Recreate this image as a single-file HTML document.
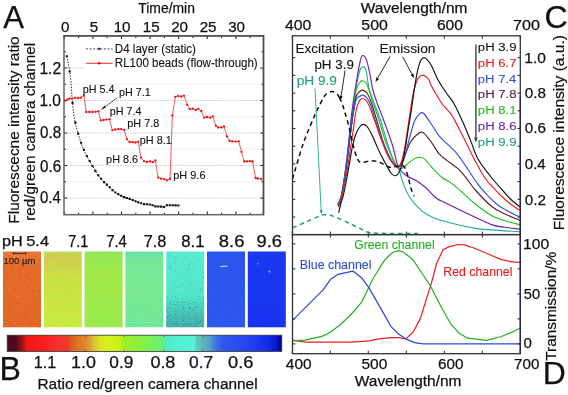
<!DOCTYPE html>
<html><head><meta charset="utf-8"><style>
html,body{margin:0;padding:0;background:#fff;}
svg{display:block;will-change:transform;}
text{font-family:"Liberation Sans", sans-serif;}
</style></head><body>
<svg width="568" height="395" viewBox="0 0 568 395">
<defs><linearGradient id="tg0" x1="0" y1="0" x2="0" y2="1"><stop offset="0" stop-color="#e87838"/><stop offset="0.2" stop-color="#e46a2a"/><stop offset="1" stop-color="#e26626"/></linearGradient><linearGradient id="tg1" x1="0" y1="0" x2="0" y2="1"><stop offset="0" stop-color="#b8e058"/><stop offset="0.06" stop-color="#d0cc50"/><stop offset="0.35" stop-color="#cce044"/><stop offset="1" stop-color="#c8ec3c"/></linearGradient><linearGradient id="tg2" x1="0" y1="0" x2="0" y2="1"><stop offset="0" stop-color="#90e858"/><stop offset="0.3" stop-color="#a0ea48"/><stop offset="1" stop-color="#98ec50"/></linearGradient><linearGradient id="tg3" x1="0" y1="0" x2="0" y2="1"><stop offset="0" stop-color="#68e0b0"/><stop offset="0.1" stop-color="#74e898"/><stop offset="0.5" stop-color="#7ae890"/><stop offset="1" stop-color="#70e898"/></linearGradient><linearGradient id="tg4" x1="0" y1="0" x2="0" y2="1"><stop offset="0" stop-color="#58ecd0"/><stop offset="0.6" stop-color="#52e6ca"/><stop offset="0.72" stop-color="#4cd4c0"/><stop offset="1" stop-color="#44b0a8"/></linearGradient><linearGradient id="tg5" x1="0" y1="0" x2="0" y2="1"><stop offset="0" stop-color="#2c54ec"/><stop offset="1" stop-color="#2c56ee"/></linearGradient><linearGradient id="tg6" x1="0" y1="0" x2="0" y2="1"><stop offset="0" stop-color="#1a38f0"/><stop offset="1" stop-color="#1834f0"/></linearGradient><filter id="sp0a" x="0" y="0" width="1" height="1" color-interpolation-filters="sRGB"><feTurbulence type="fractalNoise" baseFrequency="0.85" numOctaves="2" seed="1"/><feColorMatrix type="matrix" values="0 0 0 0 0.847 0 0 0 0 0.314 0 0 0 0 0.157 5 0 0 0 -3.3"/><feComposite in2="SourceAlpha" operator="in"/></filter><filter id="sp0b" x="0" y="0" width="1" height="1" color-interpolation-filters="sRGB"><feTurbulence type="fractalNoise" baseFrequency="0.85" numOctaves="2" seed="2"/><feColorMatrix type="matrix" values="0 0 0 0 0.910 0 0 0 0 0.627 0 0 0 0 0.282 5 0 0 0 -3.3"/><feComposite in2="SourceAlpha" operator="in"/></filter><filter id="sp1a" x="0" y="0" width="1" height="1" color-interpolation-filters="sRGB"><feTurbulence type="fractalNoise" baseFrequency="0.85" numOctaves="2" seed="3"/><feColorMatrix type="matrix" values="0 0 0 0 0.910 0 0 0 0 0.627 0 0 0 0 0.282 5 0 0 0 -3.25"/><feComposite in2="SourceAlpha" operator="in"/></filter><filter id="sp1b" x="0" y="0" width="1" height="1" color-interpolation-filters="sRGB"><feTurbulence type="fractalNoise" baseFrequency="0.85" numOctaves="2" seed="4"/><feColorMatrix type="matrix" values="0 0 0 0 0.659 0 0 0 0 0.941 0 0 0 0 0.376 5 0 0 0 -3.1"/><feComposite in2="SourceAlpha" operator="in"/></filter><filter id="sp2a" x="0" y="0" width="1" height="1" color-interpolation-filters="sRGB"><feTurbulence type="fractalNoise" baseFrequency="0.85" numOctaves="2" seed="5"/><feColorMatrix type="matrix" values="0 0 0 0 0.784 0 0 0 0 0.878 0 0 0 0 0.188 5 0 0 0 -3.1"/><feComposite in2="SourceAlpha" operator="in"/></filter><filter id="sp3a" x="0" y="0" width="1" height="1" color-interpolation-filters="sRGB"><feTurbulence type="fractalNoise" baseFrequency="0.85" numOctaves="2" seed="6"/><feColorMatrix type="matrix" values="0 0 0 0 0.314 0 0 0 0 0.816 0 0 0 0 0.753 5 0 0 0 -3.4"/><feComposite in2="SourceAlpha" operator="in"/></filter><filter id="sp4a" x="0" y="0" width="1" height="1" color-interpolation-filters="sRGB"><feTurbulence type="fractalNoise" baseFrequency="0.85" numOctaves="2" seed="7"/><feColorMatrix type="matrix" values="0 0 0 0 0.220 0 0 0 0 0.533 0 0 0 0 0.596 6 0 0 0 -3.5"/><feComposite in2="SourceAlpha" operator="in"/></filter><filter id="sp4b" x="0" y="0" width="1" height="1" color-interpolation-filters="sRGB"><feTurbulence type="fractalNoise" baseFrequency="0.85" numOctaves="2" seed="8"/><feColorMatrix type="matrix" values="0 0 0 0 0.251 0 0 0 0 0.659 0 0 0 0 0.722 5 0 0 0 -3.3"/><feComposite in2="SourceAlpha" operator="in"/></filter><filter id="sp5a" x="0" y="0" width="1" height="1" color-interpolation-filters="sRGB"><feTurbulence type="fractalNoise" baseFrequency="0.85" numOctaves="2" seed="9"/><feColorMatrix type="matrix" values="0 0 0 0 0.251 0 0 0 0 0.439 0 0 0 0 0.941 5 0 0 0 -3.3"/><feComposite in2="SourceAlpha" operator="in"/></filter><filter id="sp6a" x="0" y="0" width="1" height="1" color-interpolation-filters="sRGB"><feTurbulence type="fractalNoise" baseFrequency="0.85" numOctaves="2" seed="10"/><feColorMatrix type="matrix" values="0 0 0 0 0.188 0 0 0 0 0.314 0 0 0 0 0.941 5 0 0 0 -3.1"/><feComposite in2="SourceAlpha" operator="in"/></filter><linearGradient id="mg5" x1="0" y1="0" x2="0" y2="1"><stop offset="0" stop-color="#000"/><stop offset="0.55" stop-color="#000"/><stop offset="0.8" stop-color="#fff"/><stop offset="1" stop-color="#fff"/></linearGradient><mask id="mk5" maskContentUnits="objectBoundingBox"><rect width="1" height="1" fill="url(#mg5)"/></mask><linearGradient id="mg2" x1="0" y1="0" x2="0" y2="1"><stop offset="0" stop-color="#fff"/><stop offset="0.5" stop-color="#888"/><stop offset="1" stop-color="#222"/></linearGradient><mask id="mk2" maskContentUnits="objectBoundingBox"><rect width="1" height="1" fill="url(#mg2)"/></mask><linearGradient id="cbg" x1="0" y1="0" x2="1" y2="0"><stop offset="0.0" stop-color="#4a0a1e"/><stop offset="0.032046613255644577" stop-color="#4e0a1e"/><stop offset="0.0538965768390386" stop-color="#a01018"/><stop offset="0.0721048798252003" stop-color="#f01818"/><stop offset="0.13765477057538236" stop-color="#fc2020"/><stop offset="0.1922796795338674" stop-color="#f43434"/><stop offset="0.21777130371449377" stop-color="#f03828"/><stop offset="0.23597960670065546" stop-color="#d86020"/><stop offset="0.2578295702840495" stop-color="#e07424"/><stop offset="0.2942461762563729" stop-color="#e09030"/><stop offset="0.3160961398397669" stop-color="#d8c038"/><stop offset="0.3343044428259286" stop-color="#d8e028"/><stop offset="0.359796067006555" stop-color="#d8f020"/><stop offset="0.403495994173343" stop-color="#ccf018"/><stop offset="0.4217042971595047" stop-color="#a8f028"/><stop offset="0.43627093954843404" stop-color="#9cf030"/><stop offset="0.48361252731245447" stop-color="#88f040"/><stop offset="0.5382374362709396" stop-color="#74f064"/><stop offset="0.5637290604515659" stop-color="#6cf078"/><stop offset="0.5782957028404953" stop-color="#52ecc0"/><stop offset="0.6110706482155863" stop-color="#50f0d0"/><stop offset="0.6802621995630007" stop-color="#58f0d8"/><stop offset="0.6911871813546977" stop-color="#60c8b8"/><stop offset="0.7312454479242534" stop-color="#5aa8c0"/><stop offset="0.7603787327021121" stop-color="#4070e8"/><stop offset="0.7822286962855062" stop-color="#3058f0"/><stop offset="0.8477785870356882" stop-color="#2a4af0"/><stop offset="0.9024034959941734" stop-color="#1e3cf0"/><stop offset="0.9497450837581937" stop-color="#142ce8"/><stop offset="0.9788783685360524" stop-color="#0818d0"/><stop offset="1.0" stop-color="#000080"/></linearGradient></defs>
<rect width="568" height="395" fill="#fff"/>
<line x1="65.0" y1="198.00" x2="262.5" y2="198.00" stroke="#c0c0c0" stroke-width="0.9" stroke-dasharray="1.3,1.2"/>
<line x1="65.0" y1="181.75" x2="262.5" y2="181.75" stroke="#e2e2e6" stroke-width="0.9" stroke-dasharray="1.3,1.2"/>
<line x1="65.0" y1="165.50" x2="262.5" y2="165.50" stroke="#c0c0c0" stroke-width="0.9" stroke-dasharray="1.3,1.2"/>
<line x1="65.0" y1="149.25" x2="262.5" y2="149.25" stroke="#e2e2e6" stroke-width="0.9" stroke-dasharray="1.3,1.2"/>
<line x1="65.0" y1="133.00" x2="262.5" y2="133.00" stroke="#c0c0c0" stroke-width="0.9" stroke-dasharray="1.3,1.2"/>
<line x1="65.0" y1="116.75" x2="262.5" y2="116.75" stroke="#e2e2e6" stroke-width="0.9" stroke-dasharray="1.3,1.2"/>
<line x1="65.0" y1="100.50" x2="262.5" y2="100.50" stroke="#c0c0c0" stroke-width="0.9" stroke-dasharray="1.3,1.2"/>
<line x1="65.0" y1="84.25" x2="262.5" y2="84.25" stroke="#e2e2e6" stroke-width="0.9" stroke-dasharray="1.3,1.2"/>
<line x1="65.0" y1="68.00" x2="262.5" y2="68.00" stroke="#c0c0c0" stroke-width="0.9" stroke-dasharray="1.3,1.2"/>
<path d="M64.0,214.25h2.0 M263.5,214.25h-2.0 M64.0,198.00h3.2 M263.5,198.00h-3.2 M64.0,181.75h2.0 M263.5,181.75h-2.0 M64.0,165.50h3.2 M263.5,165.50h-3.2 M64.0,149.25h2.0 M263.5,149.25h-2.0 M64.0,133.00h3.2 M263.5,133.00h-3.2 M64.0,116.75h2.0 M263.5,116.75h-2.0 M64.0,100.50h3.2 M263.5,100.50h-3.2 M64.0,84.25h2.0 M263.5,84.25h-2.0 M64.0,68.00h3.2 M263.5,68.00h-3.2 M64.0,51.75h2.0 M263.5,51.75h-2.0 M64.0,35.50h3.2 M263.5,35.50h-3.2 M64.30,35.9v3.2 M64.30,214.7v-3.2 M78.60,35.9v2.0 M78.60,214.7v-2.0 M92.90,35.9v3.2 M92.90,214.7v-3.2 M107.20,35.9v2.0 M107.20,214.7v-2.0 M121.50,35.9v3.2 M121.50,214.7v-3.2 M135.80,35.9v2.0 M135.80,214.7v-2.0 M150.10,35.9v3.2 M150.10,214.7v-3.2 M164.40,35.9v2.0 M164.40,214.7v-2.0 M178.70,35.9v3.2 M178.70,214.7v-3.2 M193.00,35.9v2.0 M193.00,214.7v-2.0 M207.30,35.9v3.2 M207.30,214.7v-3.2 M221.60,35.9v2.0 M221.60,214.7v-2.0 M235.90,35.9v3.2 M235.90,214.7v-3.2 M250.20,35.9v2.0 M250.20,214.7v-2.0" stroke="#222" stroke-width="1.1" fill="none"/>
<rect x="64.0" y="35.9" width="199.5" height="178.79999999999998" fill="none" stroke="#666" stroke-width="1.5"/>
<path d="M63.25,35.9H263.5V214.7" stroke="#484848" stroke-width="1.4" fill="none"/>
<text x="3.24" y="28.30" font-size="31.25" textLength="20.82" lengthAdjust="spacingAndGlyphs" fill="#111" stroke="#111" stroke-width="0.25" >A</text>
<text x="138.29" y="12.90" font-size="14.97" textLength="56.60" lengthAdjust="spacingAndGlyphs" fill="#111" stroke="#111" stroke-width="0.25" >Time/min</text>
<text x="60.97" y="32.00" font-size="15.26" textLength="8.45" lengthAdjust="spacingAndGlyphs" fill="#111" stroke="#111" stroke-width="0.25" >0</text>
<text x="89.79" y="32.00" font-size="15.26" textLength="8.45" lengthAdjust="spacingAndGlyphs" fill="#111" stroke="#111" stroke-width="0.25" >5</text>
<text x="113.66" y="32.00" font-size="15.26" textLength="16.91" lengthAdjust="spacingAndGlyphs" fill="#111" stroke="#111" stroke-width="0.25" >10</text>
<text x="142.69" y="32.00" font-size="15.26" textLength="16.91" lengthAdjust="spacingAndGlyphs" fill="#111" stroke="#111" stroke-width="0.25" >15</text>
<text x="171.16" y="32.00" font-size="15.26" textLength="16.91" lengthAdjust="spacingAndGlyphs" fill="#111" stroke="#111" stroke-width="0.25" >20</text>
<text x="199.68" y="32.00" font-size="15.26" textLength="16.91" lengthAdjust="spacingAndGlyphs" fill="#111" stroke="#111" stroke-width="0.25" >25</text>
<text x="228.15" y="32.00" font-size="15.26" textLength="16.91" lengthAdjust="spacingAndGlyphs" fill="#111" stroke="#111" stroke-width="0.25" >30</text>
<text x="39.41" y="74.00" font-size="15.70" textLength="21.78" lengthAdjust="spacingAndGlyphs" fill="#111" stroke="#111" stroke-width="0.25" >1.2</text>
<text x="39.42" y="105.70" font-size="15.70" textLength="21.59" lengthAdjust="spacingAndGlyphs" fill="#111" stroke="#111" stroke-width="0.25" >1.0</text>
<text x="40.01" y="137.90" font-size="15.70" textLength="21.05" lengthAdjust="spacingAndGlyphs" fill="#111" stroke="#111" stroke-width="0.25" >0.8</text>
<text x="40.01" y="171.50" font-size="15.70" textLength="21.06" lengthAdjust="spacingAndGlyphs" fill="#111" stroke="#111" stroke-width="0.25" >0.6</text>
<text x="40.01" y="203.40" font-size="15.70" textLength="20.82" lengthAdjust="spacingAndGlyphs" fill="#111" stroke="#111" stroke-width="0.25" >0.4</text>
<text transform="translate(19.30,222.40) rotate(-90)" x="-1.26" y="0" font-size="15.26" textLength="187.31" lengthAdjust="spacingAndGlyphs" fill="#111" stroke="#111" stroke-width="0.2">Fluorescecne intensity ratio</text>
<text transform="translate(35.40,219.70) rotate(-90)" x="-1.01" y="0" font-size="14.97" textLength="177.73" lengthAdjust="spacingAndGlyphs" fill="#111" stroke="#111" stroke-width="0.2">red/green camera channel</text>
<rect x="84" y="40.5" width="176" height="30.5" fill="#fff"/>
<path d="M85.9,48.9H112.7" stroke="#333" stroke-width="0.9" stroke-dasharray="2,1.6"/>
<path d="M97.9,48.9h2.6M99.2,47.6v2.6" stroke="#111" stroke-width="1"/>
<text x="114.85" y="53.40" font-size="12.50" textLength="81.07" lengthAdjust="spacingAndGlyphs" fill="#111" stroke="#111" stroke-width="0.1" >D4 layer (static)</text>
<path d="M85.9,63.3H112.7" stroke="#f03030" stroke-width="1"/>
<circle cx="99.2" cy="63.3" r="1.3" fill="#e00"/>
<text x="114.85" y="67.30" font-size="12.50" textLength="142.86" lengthAdjust="spacingAndGlyphs" fill="#111" stroke="#111" stroke-width="0.1" >RL100 beads (flow-through)</text>
<path d="M66.80,56.30 C67.37,59.32 69.23,66.45 70.20,74.40 C71.17,82.35 71.88,96.57 72.60,104.00 C73.32,111.43 73.72,114.57 74.50,119.00 C75.28,123.43 76.08,126.27 77.30,130.60 C78.52,134.93 80.27,140.85 81.80,145.00 C83.33,149.15 84.73,152.03 86.50,155.50 C88.27,158.97 90.60,162.70 92.40,165.80 C94.20,168.90 95.43,171.43 97.30,174.10 C99.17,176.77 101.75,179.82 103.60,181.80 C105.45,183.78 106.67,184.37 108.40,186.00 C110.13,187.63 111.62,189.82 114.00,191.60 C116.38,193.38 120.03,195.47 122.70,196.70 C125.37,197.93 127.33,198.03 130.00,199.00 C132.67,199.97 136.30,201.63 138.70,202.50 C141.10,203.37 142.43,203.87 144.40,204.20 C146.37,204.53 148.65,204.13 150.50,204.50 C152.35,204.87 153.77,206.05 155.50,206.40 C157.23,206.75 159.43,206.50 160.90,206.60 C162.37,206.70 163.27,207.25 164.30,207.00 C165.33,206.75 164.73,205.35 167.10,205.10 C169.47,204.85 176.60,205.43 178.50,205.50" stroke="#222" stroke-width="1" fill="none" stroke-dasharray="1.4,1.4"/>
<path d="M65.75,55.25h2.1v2.1h-2.1z M68.61,70.48h2.1v2.1h-2.1z M71.47,101.96h2.1v2.1h-2.1z M74.33,121.60h2.1v2.1h-2.1z M77.19,132.56h2.1v2.1h-2.1z M80.05,141.71h2.1v2.1h-2.1z M82.91,148.78h2.1v2.1h-2.1z M85.77,155.01h2.1v2.1h-2.1z M88.63,160.00h2.1v2.1h-2.1z M91.49,164.99h2.1v2.1h-2.1z M94.35,169.83h2.1v2.1h-2.1z M97.21,174.22h2.1v2.1h-2.1z M100.07,177.72h2.1v2.1h-2.1z M102.93,181.08h2.1v2.1h-2.1z M105.79,183.58h2.1v2.1h-2.1z M108.65,186.25h2.1v2.1h-2.1z M111.51,189.11h2.1v2.1h-2.1z M114.37,191.38h2.1v2.1h-2.1z M117.23,193.06h2.1v2.1h-2.1z M120.09,194.74h2.1v2.1h-2.1z M122.95,196.06h2.1v2.1h-2.1z M125.81,196.96h2.1v2.1h-2.1z M128.67,197.86h2.1v2.1h-2.1z M131.53,198.99h2.1v2.1h-2.1z M134.39,200.14h2.1v2.1h-2.1z M137.25,201.29h2.1v2.1h-2.1z M140.11,202.18h2.1v2.1h-2.1z M142.97,203.04h2.1v2.1h-2.1z M145.83,203.27h2.1v2.1h-2.1z M148.69,203.41h2.1v2.1h-2.1z M151.55,204.25h2.1v2.1h-2.1z M154.41,205.33h2.1v2.1h-2.1z M157.27,205.45h2.1v2.1h-2.1z M160.13,205.58h2.1v2.1h-2.1z M162.99,205.92h2.1v2.1h-2.1z M165.85,204.19h2.1v2.1h-2.1z M168.71,204.14h2.1v2.1h-2.1z M171.57,204.24h2.1v2.1h-2.1z M174.43,204.34h2.1v2.1h-2.1z M177.29,204.44h2.1v2.1h-2.1z" fill="#111"/>
<path d="M64.90,100.80 L67.10,99.60 L69.30,98.70 L72.00,98.60 L75.00,97.80 L78.20,98.00 L81.10,97.70 L83.80,95.30 L86.20,112.00 L89.30,112.00 L92.40,112.00 L95.50,111.80 L98.50,111.30 L100.70,120.40 L103.50,120.00 L106.40,119.60 L109.60,119.20 L112.30,130.30 L115.30,129.50 L118.30,129.10 L121.20,129.10 L124.00,129.80 L126.90,139.20 L129.70,142.00 L132.60,142.20 L135.40,142.50 L138.30,141.70 L140.90,157.60 L143.90,161.10 L146.90,162.00 L150.10,161.50 L152.80,162.20 L155.40,160.40 L158.10,177.60 L161.10,178.70 L164.30,179.20 L167.00,180.30 L170.00,179.00 L172.40,115.40 L175.30,96.80 L178.30,96.00 L181.30,96.50 L184.00,95.60 L187.20,104.80 L189.80,109.20 L192.80,108.70 L195.70,110.10 L198.30,108.90 L201.30,111.00 L204.30,117.70 L207.00,116.90 L210.20,117.70 L212.80,116.30 L215.90,125.70 L218.20,127.50 L221.40,127.50 L224.00,126.40 L227.00,136.40 L229.60,140.90 L232.40,141.30 L235.60,141.60 L238.70,141.30 L241.50,151.80 L244.20,161.50 L247.00,161.50 L249.80,161.20 L252.60,161.40 L255.60,178.00 L257.80,178.50 L261.20,179.00" stroke="#f04848" stroke-width="0.9" fill="none"/>
<path d="M64.90,100.80m-1.15,0a1.15,1.15 0 1,0 2.3,0a1.15,1.15 0 1,0 -2.3,0 M67.10,99.60m-1.15,0a1.15,1.15 0 1,0 2.3,0a1.15,1.15 0 1,0 -2.3,0 M69.30,98.70m-1.15,0a1.15,1.15 0 1,0 2.3,0a1.15,1.15 0 1,0 -2.3,0 M72.00,98.60m-1.15,0a1.15,1.15 0 1,0 2.3,0a1.15,1.15 0 1,0 -2.3,0 M75.00,97.80m-1.15,0a1.15,1.15 0 1,0 2.3,0a1.15,1.15 0 1,0 -2.3,0 M78.20,98.00m-1.15,0a1.15,1.15 0 1,0 2.3,0a1.15,1.15 0 1,0 -2.3,0 M81.10,97.70m-1.15,0a1.15,1.15 0 1,0 2.3,0a1.15,1.15 0 1,0 -2.3,0 M83.80,95.30m-1.15,0a1.15,1.15 0 1,0 2.3,0a1.15,1.15 0 1,0 -2.3,0 M86.20,112.00m-1.15,0a1.15,1.15 0 1,0 2.3,0a1.15,1.15 0 1,0 -2.3,0 M89.30,112.00m-1.15,0a1.15,1.15 0 1,0 2.3,0a1.15,1.15 0 1,0 -2.3,0 M92.40,112.00m-1.15,0a1.15,1.15 0 1,0 2.3,0a1.15,1.15 0 1,0 -2.3,0 M95.50,111.80m-1.15,0a1.15,1.15 0 1,0 2.3,0a1.15,1.15 0 1,0 -2.3,0 M98.50,111.30m-1.15,0a1.15,1.15 0 1,0 2.3,0a1.15,1.15 0 1,0 -2.3,0 M100.70,120.40m-1.15,0a1.15,1.15 0 1,0 2.3,0a1.15,1.15 0 1,0 -2.3,0 M103.50,120.00m-1.15,0a1.15,1.15 0 1,0 2.3,0a1.15,1.15 0 1,0 -2.3,0 M106.40,119.60m-1.15,0a1.15,1.15 0 1,0 2.3,0a1.15,1.15 0 1,0 -2.3,0 M109.60,119.20m-1.15,0a1.15,1.15 0 1,0 2.3,0a1.15,1.15 0 1,0 -2.3,0 M112.30,130.30m-1.15,0a1.15,1.15 0 1,0 2.3,0a1.15,1.15 0 1,0 -2.3,0 M115.30,129.50m-1.15,0a1.15,1.15 0 1,0 2.3,0a1.15,1.15 0 1,0 -2.3,0 M118.30,129.10m-1.15,0a1.15,1.15 0 1,0 2.3,0a1.15,1.15 0 1,0 -2.3,0 M121.20,129.10m-1.15,0a1.15,1.15 0 1,0 2.3,0a1.15,1.15 0 1,0 -2.3,0 M124.00,129.80m-1.15,0a1.15,1.15 0 1,0 2.3,0a1.15,1.15 0 1,0 -2.3,0 M126.90,139.20m-1.15,0a1.15,1.15 0 1,0 2.3,0a1.15,1.15 0 1,0 -2.3,0 M129.70,142.00m-1.15,0a1.15,1.15 0 1,0 2.3,0a1.15,1.15 0 1,0 -2.3,0 M132.60,142.20m-1.15,0a1.15,1.15 0 1,0 2.3,0a1.15,1.15 0 1,0 -2.3,0 M135.40,142.50m-1.15,0a1.15,1.15 0 1,0 2.3,0a1.15,1.15 0 1,0 -2.3,0 M138.30,141.70m-1.15,0a1.15,1.15 0 1,0 2.3,0a1.15,1.15 0 1,0 -2.3,0 M140.90,157.60m-1.15,0a1.15,1.15 0 1,0 2.3,0a1.15,1.15 0 1,0 -2.3,0 M143.90,161.10m-1.15,0a1.15,1.15 0 1,0 2.3,0a1.15,1.15 0 1,0 -2.3,0 M146.90,162.00m-1.15,0a1.15,1.15 0 1,0 2.3,0a1.15,1.15 0 1,0 -2.3,0 M150.10,161.50m-1.15,0a1.15,1.15 0 1,0 2.3,0a1.15,1.15 0 1,0 -2.3,0 M152.80,162.20m-1.15,0a1.15,1.15 0 1,0 2.3,0a1.15,1.15 0 1,0 -2.3,0 M155.40,160.40m-1.15,0a1.15,1.15 0 1,0 2.3,0a1.15,1.15 0 1,0 -2.3,0 M158.10,177.60m-1.15,0a1.15,1.15 0 1,0 2.3,0a1.15,1.15 0 1,0 -2.3,0 M161.10,178.70m-1.15,0a1.15,1.15 0 1,0 2.3,0a1.15,1.15 0 1,0 -2.3,0 M164.30,179.20m-1.15,0a1.15,1.15 0 1,0 2.3,0a1.15,1.15 0 1,0 -2.3,0 M167.00,180.30m-1.15,0a1.15,1.15 0 1,0 2.3,0a1.15,1.15 0 1,0 -2.3,0 M170.00,179.00m-1.15,0a1.15,1.15 0 1,0 2.3,0a1.15,1.15 0 1,0 -2.3,0 M172.40,115.40m-1.15,0a1.15,1.15 0 1,0 2.3,0a1.15,1.15 0 1,0 -2.3,0 M175.30,96.80m-1.15,0a1.15,1.15 0 1,0 2.3,0a1.15,1.15 0 1,0 -2.3,0 M178.30,96.00m-1.15,0a1.15,1.15 0 1,0 2.3,0a1.15,1.15 0 1,0 -2.3,0 M181.30,96.50m-1.15,0a1.15,1.15 0 1,0 2.3,0a1.15,1.15 0 1,0 -2.3,0 M184.00,95.60m-1.15,0a1.15,1.15 0 1,0 2.3,0a1.15,1.15 0 1,0 -2.3,0 M187.20,104.80m-1.15,0a1.15,1.15 0 1,0 2.3,0a1.15,1.15 0 1,0 -2.3,0 M189.80,109.20m-1.15,0a1.15,1.15 0 1,0 2.3,0a1.15,1.15 0 1,0 -2.3,0 M192.80,108.70m-1.15,0a1.15,1.15 0 1,0 2.3,0a1.15,1.15 0 1,0 -2.3,0 M195.70,110.10m-1.15,0a1.15,1.15 0 1,0 2.3,0a1.15,1.15 0 1,0 -2.3,0 M198.30,108.90m-1.15,0a1.15,1.15 0 1,0 2.3,0a1.15,1.15 0 1,0 -2.3,0 M201.30,111.00m-1.15,0a1.15,1.15 0 1,0 2.3,0a1.15,1.15 0 1,0 -2.3,0 M204.30,117.70m-1.15,0a1.15,1.15 0 1,0 2.3,0a1.15,1.15 0 1,0 -2.3,0 M207.00,116.90m-1.15,0a1.15,1.15 0 1,0 2.3,0a1.15,1.15 0 1,0 -2.3,0 M210.20,117.70m-1.15,0a1.15,1.15 0 1,0 2.3,0a1.15,1.15 0 1,0 -2.3,0 M212.80,116.30m-1.15,0a1.15,1.15 0 1,0 2.3,0a1.15,1.15 0 1,0 -2.3,0 M215.90,125.70m-1.15,0a1.15,1.15 0 1,0 2.3,0a1.15,1.15 0 1,0 -2.3,0 M218.20,127.50m-1.15,0a1.15,1.15 0 1,0 2.3,0a1.15,1.15 0 1,0 -2.3,0 M221.40,127.50m-1.15,0a1.15,1.15 0 1,0 2.3,0a1.15,1.15 0 1,0 -2.3,0 M224.00,126.40m-1.15,0a1.15,1.15 0 1,0 2.3,0a1.15,1.15 0 1,0 -2.3,0 M227.00,136.40m-1.15,0a1.15,1.15 0 1,0 2.3,0a1.15,1.15 0 1,0 -2.3,0 M229.60,140.90m-1.15,0a1.15,1.15 0 1,0 2.3,0a1.15,1.15 0 1,0 -2.3,0 M232.40,141.30m-1.15,0a1.15,1.15 0 1,0 2.3,0a1.15,1.15 0 1,0 -2.3,0 M235.60,141.60m-1.15,0a1.15,1.15 0 1,0 2.3,0a1.15,1.15 0 1,0 -2.3,0 M238.70,141.30m-1.15,0a1.15,1.15 0 1,0 2.3,0a1.15,1.15 0 1,0 -2.3,0 M241.50,151.80m-1.15,0a1.15,1.15 0 1,0 2.3,0a1.15,1.15 0 1,0 -2.3,0 M244.20,161.50m-1.15,0a1.15,1.15 0 1,0 2.3,0a1.15,1.15 0 1,0 -2.3,0 M247.00,161.50m-1.15,0a1.15,1.15 0 1,0 2.3,0a1.15,1.15 0 1,0 -2.3,0 M249.80,161.20m-1.15,0a1.15,1.15 0 1,0 2.3,0a1.15,1.15 0 1,0 -2.3,0 M252.60,161.40m-1.15,0a1.15,1.15 0 1,0 2.3,0a1.15,1.15 0 1,0 -2.3,0 M255.60,178.00m-1.15,0a1.15,1.15 0 1,0 2.3,0a1.15,1.15 0 1,0 -2.3,0 M257.80,178.50m-1.15,0a1.15,1.15 0 1,0 2.3,0a1.15,1.15 0 1,0 -2.3,0 M261.20,179.00m-1.15,0a1.15,1.15 0 1,0 2.3,0a1.15,1.15 0 1,0 -2.3,0" fill="#f01010"/>
<text x="82.80" y="92.70" font-size="10.17" textLength="31.81" lengthAdjust="spacingAndGlyphs" fill="#111" stroke="#111" stroke-width="0.1" >pH 5.4</text>
<text x="119.11" y="95.80" font-size="10.17" textLength="31.62" lengthAdjust="spacingAndGlyphs" fill="#111" stroke="#111" stroke-width="0.1" >pH 7.1</text>
<text x="109.71" y="114.60" font-size="10.17" textLength="31.71" lengthAdjust="spacingAndGlyphs" fill="#111" stroke="#111" stroke-width="0.1" >pH 7.4</text>
<text x="127.30" y="126.80" font-size="10.17" textLength="32.07" lengthAdjust="spacingAndGlyphs" fill="#111" stroke="#111" stroke-width="0.1" >pH 7.8</text>
<text x="139.80" y="144.00" font-size="10.17" textLength="32.14" lengthAdjust="spacingAndGlyphs" fill="#111" stroke="#111" stroke-width="0.1" >pH 8.1</text>
<text x="106.10" y="162.50" font-size="10.17" textLength="32.08" lengthAdjust="spacingAndGlyphs" fill="#111" stroke="#111" stroke-width="0.1" >pH 8.6</text>
<text x="173.30" y="179.40" font-size="10.17" textLength="32.18" lengthAdjust="spacingAndGlyphs" fill="#111" stroke="#111" stroke-width="0.1" >pH 9.6</text>
<path d="M117.3,97.8L102.5,108.6" stroke="#333" stroke-width="0.8"/>
<path d="M100.7,109.9L104.6,105.6L105.9,107.5z" fill="#222"/>
<text x="1.95" y="246.40" font-size="13.95" textLength="20.77" lengthAdjust="spacingAndGlyphs" fill="#111" stroke="#111" stroke-width="0.25" >pH</text>
<text x="26.24" y="246.40" font-size="14.83" textLength="22.84" lengthAdjust="spacingAndGlyphs" fill="#111" stroke="#111" stroke-width="0.25" >5.4</text>
<text x="68.16" y="246.50" font-size="15.70" textLength="20.15" lengthAdjust="spacingAndGlyphs" fill="#111" stroke="#111" stroke-width="0.25" >7.1</text>
<text x="106.13" y="246.50" font-size="15.70" textLength="20.81" lengthAdjust="spacingAndGlyphs" fill="#111" stroke="#111" stroke-width="0.25" >7.4</text>
<text x="143.66" y="246.50" font-size="15.70" textLength="22.64" lengthAdjust="spacingAndGlyphs" fill="#111" stroke="#111" stroke-width="0.25" >7.8</text>
<text x="181.27" y="246.50" font-size="15.70" textLength="23.24" lengthAdjust="spacingAndGlyphs" fill="#111" stroke="#111" stroke-width="0.25" >8.1</text>
<text x="218.80" y="246.50" font-size="15.70" textLength="25.61" lengthAdjust="spacingAndGlyphs" fill="#111" stroke="#111" stroke-width="0.25" >8.6</text>
<text x="256.64" y="246.50" font-size="15.70" textLength="25.36" lengthAdjust="spacingAndGlyphs" fill="#111" stroke="#111" stroke-width="0.25" >9.6</text>
<rect x="3.00" y="251.5" width="38" height="75.8" fill="url(#tg0)"/>
<g><rect x="3.00" y="251.5" width="38" height="75.8" fill="#000" filter="url(#sp0a)"/></g>
<g><rect x="3.00" y="251.5" width="38" height="75.8" fill="#000" filter="url(#sp0b)"/></g>
<rect x="43.80" y="251.5" width="38" height="75.8" fill="url(#tg1)"/>
<g mask="url(#mk2)"><rect x="43.80" y="251.5" width="38" height="75.8" fill="#000" filter="url(#sp1a)"/></g>
<g><rect x="43.80" y="251.5" width="38" height="75.8" fill="#000" filter="url(#sp1b)"/></g>
<rect x="84.60" y="251.5" width="38" height="75.8" fill="url(#tg2)"/>
<g><rect x="84.60" y="251.5" width="38" height="75.8" fill="#000" filter="url(#sp2a)"/></g>
<rect x="125.40" y="251.5" width="38" height="75.8" fill="url(#tg3)"/>
<g><rect x="125.40" y="251.5" width="38" height="75.8" fill="#000" filter="url(#sp3a)"/></g>
<rect x="166.20" y="251.5" width="38" height="75.8" fill="url(#tg4)"/>
<g><rect x="166.20" y="251.5" width="38" height="75.8" fill="#000" filter="url(#sp4b)"/></g>
<g mask="url(#mk5)"><rect x="166.20" y="251.5" width="38" height="75.8" fill="#000" filter="url(#sp4a)"/></g>
<rect x="207.00" y="251.5" width="38" height="75.8" fill="url(#tg5)"/>
<g><rect x="207.00" y="251.5" width="38" height="75.8" fill="#000" filter="url(#sp5a)"/></g>
<rect x="247.80" y="251.5" width="38" height="75.8" fill="url(#tg6)"/>
<path d="M220.3,266.9Q224,265.6 227.4,266.4" stroke="#80f0d0" stroke-width="1.2" fill="none"/>
<circle cx="257.8" cy="263.6" r="0.9" fill="#5a90f0"/><circle cx="269.4" cy="271.5" r="1" fill="#70c8f0"/>
<path d="M13.4,253.4H25.8M13.4,252.2V254.6M25.8,252.2V254.6" stroke="#222" stroke-width="0.9"/>
<text x="3.47" y="264.30" font-size="8.58" textLength="31.95" lengthAdjust="spacingAndGlyphs" fill="#1a1a1a" stroke="#1a1a1a" stroke-width="0.1" >100 µm</text>
<rect x="7.2" y="335.2" width="274.6" height="16.2" fill="url(#cbg)" stroke="#333" stroke-width="0.8"/>
<path d="M45.5,335.2v1.8M45.5,351.4v-1.8 M85.3,335.2v1.8M85.3,351.4v-1.8 M124.3,335.2v1.8M124.3,351.4v-1.8 M164.0,335.2v1.8M164.0,351.4v-1.8 M203.0,335.2v1.8M203.0,351.4v-1.8 M242.0,335.2v1.8M242.0,351.4v-1.8" stroke="#444" stroke-width="0.7"/>
<text x="33.76" y="367.70" font-size="16.57" textLength="22.64" lengthAdjust="spacingAndGlyphs" fill="#111" stroke="#111" stroke-width="0.25" >1.1</text>
<text x="71.04" y="367.70" font-size="16.57" textLength="24.86" lengthAdjust="spacingAndGlyphs" fill="#111" stroke="#111" stroke-width="0.25" >1.0</text>
<text x="109.33" y="367.70" font-size="16.57" textLength="23.99" lengthAdjust="spacingAndGlyphs" fill="#111" stroke="#111" stroke-width="0.25" >0.9</text>
<text x="150.40" y="367.70" font-size="16.57" textLength="24.98" lengthAdjust="spacingAndGlyphs" fill="#111" stroke="#111" stroke-width="0.25" >0.8</text>
<text x="189.02" y="367.70" font-size="16.57" textLength="24.15" lengthAdjust="spacingAndGlyphs" fill="#141428" stroke="#141428" stroke-width="0.25" >0.7</text>
<text x="228.09" y="367.70" font-size="16.57" textLength="25.42" lengthAdjust="spacingAndGlyphs" fill="#111" stroke="#111" stroke-width="0.25" >0.6</text>
<text x="-0.54" y="379.60" font-size="32.56" textLength="21.43" lengthAdjust="spacingAndGlyphs" fill="#111" stroke="#111" stroke-width="0.25" >B</text>
<text x="37.49" y="388.70" font-size="14.39" textLength="220.14" lengthAdjust="spacingAndGlyphs" fill="#111" stroke="#111" stroke-width="0.25" >Ratio red/green camera channel</text>
<path d="M292.30,35.8v3.0 M292.30,234.6v-3.0 M292.30,234.6v3.0 M292.30,353.7v-3.0 M330.30,35.8v3.0 M330.30,234.6v-3.0 M330.30,234.6v3.0 M330.30,353.7v-3.0 M368.30,35.8v3.0 M368.30,234.6v-3.0 M368.30,234.6v3.0 M368.30,353.7v-3.0 M406.30,35.8v3.0 M406.30,234.6v-3.0 M406.30,234.6v3.0 M406.30,353.7v-3.0 M444.30,35.8v3.0 M444.30,234.6v-3.0 M444.30,234.6v3.0 M444.30,353.7v-3.0 M482.30,35.8v3.0 M482.30,234.6v-3.0 M482.30,234.6v3.0 M482.30,353.7v-3.0 M520.30,35.8v3.0 M520.30,234.6v-3.0 M520.30,234.6v3.0 M520.30,353.7v-3.0 M292.5,217.00h2.8 M520.3,217.00h-2.8 M292.5,199.30h2.8 M520.3,199.30h-2.8 M292.5,181.60h2.8 M520.3,181.60h-2.8 M292.5,163.90h2.8 M520.3,163.90h-2.8 M292.5,146.20h2.8 M520.3,146.20h-2.8 M292.5,128.50h2.8 M520.3,128.50h-2.8 M292.5,110.80h2.8 M520.3,110.80h-2.8 M292.5,93.10h2.8 M520.3,93.10h-2.8 M292.5,75.40h2.8 M520.3,75.40h-2.8 M292.5,57.70h2.8 M520.3,57.70h-2.8 M292.5,343.90h2.8 M520.3,343.90h-2.8 M292.5,318.90h2.8 M520.3,318.90h-2.8 M292.5,293.90h2.8 M520.3,293.90h-2.8 M292.5,268.90h2.8 M520.3,268.90h-2.8 M292.5,243.90h2.8 M520.3,243.90h-2.8" stroke="#222" stroke-width="1" fill="none"/>
<path d="M337.72,204.00 C338.33,202.50 339.95,201.83 341.40,195.00 C342.85,188.17 344.67,176.33 346.44,163.00 C348.21,149.67 350.41,127.50 352.00,115.00 C353.59,102.50 354.72,95.33 356.00,88.00 C357.28,80.67 358.62,74.50 359.70,71.00 C360.78,67.50 361.45,67.17 362.50,67.00 C363.55,66.83 364.85,66.17 366.00,70.00 C367.15,73.83 367.60,83.33 369.40,90.00 C371.20,96.67 374.95,105.00 376.80,110.00 C378.65,115.00 378.63,114.17 380.50,120.00 C382.37,125.83 385.75,138.00 388.00,145.00 C390.25,152.00 392.25,158.08 394.00,162.00 C395.75,165.92 397.42,166.42 398.50,168.50 C399.58,170.58 399.57,171.60 400.50,174.50 C401.43,177.40 402.48,181.98 404.10,185.90 C405.72,189.82 407.67,194.20 410.20,198.00 C412.73,201.80 416.50,205.95 419.30,208.70 C422.10,211.45 423.75,212.65 427.00,214.50 C430.25,216.35 433.30,218.00 438.80,219.80 C444.30,221.60 453.85,223.87 460.00,225.30 C466.15,226.73 470.47,227.63 475.70,228.40 C480.93,229.17 483.97,229.33 491.40,229.90 C498.83,230.47 515.48,231.48 520.30,231.80" stroke="#20b098" stroke-width="1.15" fill="none"/>
<path d="M337.70,205.00 C338.31,203.50 339.92,203.17 341.38,196.00 C342.84,188.83 344.71,176.00 346.46,162.00 C348.21,148.00 350.33,124.83 351.90,112.00 C353.47,99.17 354.55,93.33 355.90,85.00 C357.25,76.67 358.90,66.90 360.00,62.00 C361.10,57.10 361.48,56.10 362.50,55.60 C363.52,55.10 364.93,56.27 366.10,59.00 C367.27,61.73 368.37,66.83 369.50,72.00 C370.63,77.17 371.57,84.67 372.90,90.00 C374.23,95.33 375.72,99.00 377.50,104.00 C379.28,109.00 381.12,113.17 383.60,120.00 C386.08,126.83 390.18,137.83 392.40,145.00 C394.62,152.17 395.80,159.08 396.90,163.00 C398.00,166.92 397.40,166.37 399.00,168.50 C400.60,170.63 403.47,173.68 406.50,175.80 C409.53,177.92 414.12,179.33 417.20,181.20 C420.28,183.07 421.85,184.20 425.00,187.00 C428.15,189.80 432.40,195.20 436.10,198.00 C439.80,200.80 442.10,201.25 447.20,203.80 C452.30,206.35 459.33,209.83 466.70,213.30 C474.07,216.77 485.02,222.27 491.40,224.60 C497.78,226.93 500.18,226.53 505.00,227.30 C509.82,228.07 517.75,228.88 520.30,229.20" stroke="#7020b8" stroke-width="1.15" fill="none"/>
<path d="M337.82,204.00 C338.42,202.50 339.95,201.50 341.40,195.00 C342.85,188.50 344.72,177.50 346.50,165.00 C348.28,152.50 350.57,132.17 352.10,120.00 C353.63,107.83 354.43,98.25 355.70,92.00 C356.97,85.75 358.57,84.38 359.70,82.50 C360.83,80.62 361.43,80.62 362.50,80.70 C363.57,80.78 365.02,81.45 366.10,83.00 C367.18,84.55 367.85,86.67 369.00,90.00 C370.15,93.33 371.33,98.00 373.00,103.00 C374.67,108.00 377.00,113.83 379.00,120.00 C381.00,126.17 382.83,133.83 385.00,140.00 C387.17,146.17 389.83,152.42 392.00,157.00 C394.17,161.58 396.30,165.62 398.00,167.50 C399.70,169.38 400.43,169.07 402.20,168.30 C403.97,167.53 406.47,164.53 408.60,162.90 C410.73,161.27 413.02,159.43 415.00,158.50 C416.98,157.57 418.83,157.15 420.50,157.30 C422.17,157.45 423.10,157.70 425.00,159.40 C426.90,161.10 429.12,164.53 431.90,167.50 C434.68,170.47 438.22,174.42 441.70,177.20 C445.18,179.98 449.10,181.42 452.80,184.20 C456.50,186.98 460.15,190.60 463.90,193.90 C467.65,197.20 470.72,200.38 475.30,204.00 C479.88,207.62 486.45,212.80 491.40,215.60 C496.35,218.40 500.18,219.25 505.00,220.80 C509.82,222.35 517.75,224.22 520.30,224.90" stroke="#20c020" stroke-width="1.15" fill="none"/>
<path d="M338.20,206.00 C338.73,204.50 339.96,203.83 341.36,197.00 C342.76,190.17 344.79,177.83 346.60,165.00 C348.41,152.17 350.63,131.33 352.20,120.00 C353.77,108.67 354.75,101.75 356.00,97.00 C357.25,92.25 358.62,92.65 359.70,91.50 C360.78,90.35 361.28,89.85 362.50,90.10 C363.72,90.35 365.58,91.02 367.00,93.00 C368.42,94.98 369.38,97.50 371.00,102.00 C372.62,106.50 374.78,113.67 376.70,120.00 C378.62,126.33 380.28,133.67 382.50,140.00 C384.72,146.33 387.47,153.42 390.00,158.00 C392.53,162.58 395.53,167.17 397.70,167.50 C399.87,167.83 400.95,164.08 403.00,160.00 C405.05,155.92 407.75,147.17 410.00,143.00 C412.25,138.83 414.42,136.78 416.50,135.00 C418.58,133.22 420.15,131.28 422.50,132.30 C424.85,133.32 427.87,137.55 430.60,141.10 C433.33,144.65 436.13,150.35 438.90,153.60 C441.67,156.85 443.97,158.05 447.20,160.60 C450.43,163.15 455.05,165.90 458.30,168.90 C461.55,171.90 463.87,175.08 466.70,178.60 C469.53,182.12 471.18,185.40 475.30,190.00 C479.42,194.60 486.45,202.20 491.40,206.20 C496.35,210.20 500.18,211.62 505.00,214.00 C509.82,216.38 517.75,219.42 520.30,220.50" stroke="#5a1e30" stroke-width="1.15" fill="none"/>
<path d="M338.20,205.00 C338.73,203.50 339.98,202.67 341.38,196.00 C342.78,189.33 344.80,177.67 346.60,165.00 C348.40,152.33 350.63,130.83 352.20,120.00 C353.77,109.17 354.75,103.92 356.00,100.00 C357.25,96.08 358.62,97.32 359.70,96.50 C360.78,95.68 361.28,94.85 362.50,95.10 C363.72,95.35 365.58,96.18 367.00,98.00 C368.42,99.82 369.63,102.33 371.00,106.00 C372.37,109.67 373.37,114.33 375.20,120.00 C377.03,125.67 379.53,133.67 382.00,140.00 C384.47,146.33 387.38,153.42 390.00,158.00 C392.62,162.58 395.45,167.12 397.70,167.50 C399.95,167.88 401.62,164.88 403.50,160.30 C405.38,155.72 407.17,146.55 409.00,140.00 C410.83,133.45 412.75,125.33 414.50,121.00 C416.25,116.67 418.00,115.28 419.50,114.00 C421.00,112.72 421.65,111.80 423.50,113.30 C425.35,114.80 428.03,119.28 430.60,123.00 C433.17,126.72 436.13,132.12 438.90,135.60 C441.67,139.08 444.42,141.13 447.20,143.90 C449.98,146.67 452.82,148.97 455.60,152.20 C458.38,155.43 460.67,158.67 463.90,163.30 C467.13,167.93 471.65,175.30 475.00,180.00 C478.35,184.70 479.97,187.17 484.00,191.50 C488.03,195.83 493.15,201.68 499.20,206.00 C505.25,210.32 516.78,215.50 520.30,217.40" stroke="#3050e8" stroke-width="1.15" fill="none"/>
<path d="M338.50,207.00 C338.97,205.50 340.32,201.83 341.34,198.00 C342.36,194.17 343.51,189.50 344.62,184.00 C345.73,178.50 346.69,173.17 348.00,165.00 C349.31,156.83 351.13,144.17 352.50,135.00 C353.87,125.83 355.00,115.75 356.20,110.00 C357.40,104.25 358.65,102.42 359.70,100.50 C360.75,98.58 361.37,98.42 362.50,98.50 C363.63,98.58 365.25,99.42 366.50,101.00 C367.75,102.58 368.68,104.83 370.00,108.00 C371.32,111.17 372.97,116.00 374.40,120.00 C375.83,124.00 377.12,127.83 378.60,132.00 C380.08,136.17 381.73,141.00 383.30,145.00 C384.87,149.00 386.23,152.67 388.00,156.00 C389.77,159.33 392.28,163.08 393.90,165.00 C395.52,166.92 396.35,168.33 397.70,167.50 C399.05,166.67 400.62,164.58 402.00,160.00 C403.38,155.42 404.57,148.50 406.00,140.00 C407.43,131.50 409.27,117.33 410.60,109.00 C411.93,100.67 412.82,95.00 414.00,90.00 C415.18,85.00 416.62,81.33 417.70,79.00 C418.78,76.67 419.47,76.60 420.50,76.00 C421.53,75.40 422.58,74.90 423.90,75.40 C425.22,75.90 427.22,77.40 428.40,79.00 C429.58,80.60 429.73,82.50 431.00,85.00 C432.27,87.50 434.00,90.67 436.00,94.00 C438.00,97.33 440.43,101.55 443.00,105.00 C445.57,108.45 448.85,111.00 451.40,114.70 C453.95,118.40 455.75,122.33 458.30,127.20 C460.85,132.07 463.92,138.33 466.70,143.90 C469.48,149.47 471.95,154.92 475.00,160.60 C478.05,166.28 481.75,173.25 485.00,178.00 C488.25,182.75 490.82,185.23 494.50,189.10 C498.18,192.97 502.80,197.58 507.10,201.20 C511.40,204.82 518.10,209.20 520.30,210.80" stroke="#f01818" stroke-width="1.15" fill="none"/>
<path d="M338.60,212.80 C339.00,211.17 340.20,205.97 341.00,203.00 C341.80,200.03 342.48,198.83 343.40,195.00 C344.32,191.17 345.47,185.33 346.50,180.00 C347.53,174.67 348.55,168.67 349.56,163.00 C350.56,157.33 351.49,150.83 352.54,146.00 C353.60,141.17 354.64,137.25 355.89,134.00 C357.13,130.75 358.75,128.12 360.00,126.50 C361.25,124.88 362.23,124.30 363.40,124.30 C364.57,124.30 365.65,124.88 367.00,126.50 C368.35,128.12 369.93,130.92 371.50,134.00 C373.07,137.08 374.82,141.50 376.40,145.00 C377.98,148.50 379.35,151.67 381.00,155.00 C382.65,158.33 384.63,162.00 386.30,165.00 C387.97,168.00 389.58,171.22 391.00,173.00 C392.42,174.78 393.63,175.53 394.80,175.70 C395.97,175.87 396.80,175.78 398.00,174.00 C399.20,172.22 400.83,169.00 402.00,165.00 C403.17,161.00 403.98,155.83 405.00,150.00 C406.02,144.17 407.02,136.83 408.10,130.00 C409.18,123.17 410.43,116.00 411.50,109.00 C412.57,102.00 413.47,94.48 414.50,88.00 C415.53,81.52 416.62,74.77 417.70,70.10 C418.78,65.43 419.87,62.07 421.00,60.00 C422.13,57.93 423.33,57.62 424.50,57.70 C425.67,57.78 426.77,59.02 428.00,60.50 C429.23,61.98 430.40,63.68 431.90,66.60 C433.40,69.52 435.32,74.68 437.00,78.00 C438.68,81.32 440.15,83.60 442.00,86.50 C443.85,89.40 446.07,92.48 448.10,95.40 C450.13,98.32 451.57,99.17 454.20,104.00 C456.83,108.83 461.13,118.22 463.90,124.40 C466.67,130.58 468.45,135.33 470.80,141.10 C473.15,146.87 474.70,153.10 478.00,159.00 C481.30,164.90 486.40,171.17 490.60,176.50 C494.80,181.83 499.80,187.17 503.20,191.00 C506.60,194.83 508.15,196.80 511.00,199.50 C513.85,202.20 518.75,205.92 520.30,207.20" stroke="#111111" stroke-width="1.15" fill="none"/>
<path d="M292.50,179.00 C294.30,173.07 299.53,154.15 303.30,143.40 C307.07,132.65 312.55,120.52 315.10,114.50 C317.65,108.48 317.25,110.02 318.60,107.30 C319.95,104.58 321.93,100.38 323.20,98.20 C324.47,96.02 324.77,95.30 326.20,94.20 C327.63,93.10 330.03,91.68 331.80,91.60 C333.57,91.52 335.53,92.68 336.80,93.70 C338.07,94.72 338.97,97.03 339.40,97.70 M339.40,97.70 C339.90,98.80 341.45,101.72 342.40,104.30 C343.35,106.88 343.97,109.35 345.10,113.20 C346.23,117.05 347.85,122.00 349.20,127.40 C350.55,132.80 351.85,140.42 353.20,145.60 C354.55,150.78 355.95,155.68 357.30,158.50 C358.65,161.32 359.12,162.12 361.30,162.50 C363.48,162.88 367.53,160.92 370.40,160.80 C373.27,160.68 376.13,161.13 378.50,161.80 C380.87,162.47 382.77,163.90 384.60,164.80 C386.43,165.70 388.10,166.83 389.50,167.20 C390.90,167.57 391.58,167.20 393.00,167.00 C394.42,166.80 396.22,166.12 398.00,166.00 C399.78,165.88 402.12,164.83 403.70,166.30 C405.28,167.77 406.32,171.23 407.50,174.80 C408.68,178.37 409.72,184.12 410.80,187.70 C411.88,191.28 413.47,194.87 414.00,196.30" stroke="#111" stroke-width="1.5" fill="none" stroke-dasharray="4.5,3.5"/>
<path d="M292.50,227.80 C294.90,226.77 302.15,223.67 306.90,221.60 C311.65,219.53 317.82,216.52 321.00,215.40 C324.18,214.28 324.23,214.88 326.00,214.90 C327.77,214.92 327.73,214.12 331.60,215.50 C335.47,216.88 343.93,220.75 349.20,223.20 C354.47,225.65 359.92,228.67 363.20,230.20 C366.48,231.73 366.08,231.88 368.90,232.40 C371.72,232.92 371.92,233.10 380.10,233.30 C388.28,233.50 411.68,233.55 418.00,233.60" stroke="#20a868" stroke-width="1.5" fill="none" stroke-dasharray="4.5,3.5"/>
<path d="M345.10,70.40L341.09,96.05" stroke="#111" stroke-width="0.9"/>
<path d="M340.40,100.50L339.51,95.81L342.68,96.30z" fill="#111"/>
<path d="M315.00,88.50L321.17,210.11" stroke="#20a878" stroke-width="0.9"/>
<path d="M321.40,214.60L319.57,210.19L322.77,210.02z" fill="#20a878"/>
<path d="M390.10,56.40L377.73,78.09" stroke="#111" stroke-width="0.9"/>
<path d="M375.50,82.00L376.34,77.30L379.12,78.88z" fill="#111"/>
<path d="M402.70,56.80L412.08,74.33" stroke="#111" stroke-width="0.9"/>
<path d="M414.20,78.30L410.67,75.09L413.49,73.58z" fill="#111"/>
<path d="M475.90,44.40L475.90,137.50" stroke="#333" stroke-width="1.3"/>
<path d="M475.90,142.50L474.10,137.50L477.70,137.50z" fill="#333"/>
<text x="295.59" y="52.80" font-size="11.92" textLength="58.48" lengthAdjust="spacingAndGlyphs" fill="#111" stroke="#111" stroke-width="0.1" >Excitation</text>
<text x="314.44" y="69.00" font-size="11.92" textLength="39.40" lengthAdjust="spacingAndGlyphs" fill="#111" stroke="#111" stroke-width="0.1" >pH 3.9</text>
<text x="296.82" y="84.60" font-size="11.92" textLength="40.02" lengthAdjust="spacingAndGlyphs" fill="#20a070" stroke="#20a070" stroke-width="0.1" >pH 9.9</text>
<text x="379.57" y="53.30" font-size="11.92" textLength="55.93" lengthAdjust="spacingAndGlyphs" fill="#111" stroke="#111" stroke-width="0.1" >Emission</text>
<text x="477.85" y="51.00" font-size="10.61" textLength="38.67" lengthAdjust="spacingAndGlyphs" fill="#111" stroke="#111" stroke-width="0.1" >pH 3.9</text>
<text x="477.85" y="66.75" font-size="10.61" textLength="38.71" lengthAdjust="spacingAndGlyphs" fill="#f01818" stroke="#f01818" stroke-width="0.1" >pH 6.7</text>
<text x="477.86" y="82.50" font-size="10.61" textLength="38.42" lengthAdjust="spacingAndGlyphs" fill="#3050e0" stroke="#3050e0" stroke-width="0.1" >pH 7.4</text>
<text x="477.86" y="98.25" font-size="10.61" textLength="38.61" lengthAdjust="spacingAndGlyphs" fill="#5a1a2a" stroke="#5a1a2a" stroke-width="0.1" >pH 7.8</text>
<text x="477.85" y="114.00" font-size="10.61" textLength="38.69" lengthAdjust="spacingAndGlyphs" fill="#20c020" stroke="#20c020" stroke-width="0.1" >pH 8.1</text>
<text x="477.86" y="129.75" font-size="10.61" textLength="38.62" lengthAdjust="spacingAndGlyphs" fill="#7020b0" stroke="#7020b0" stroke-width="0.1" >pH 8.6</text>
<text x="477.85" y="145.50" font-size="10.61" textLength="38.67" lengthAdjust="spacingAndGlyphs" fill="#20a080" stroke="#20a080" stroke-width="0.1" >pH 9.9</text>
<text x="360.73" y="12.50" font-size="14.83" textLength="106.68" lengthAdjust="spacingAndGlyphs" fill="#111" stroke="#111" stroke-width="0.25" >Wavelength/nm</text>
<text x="285.04" y="29.60" font-size="15.12" textLength="26.38" lengthAdjust="spacingAndGlyphs" fill="#111" stroke="#111" stroke-width="0.25" >400</text>
<text x="361.37" y="29.60" font-size="15.12" textLength="26.45" lengthAdjust="spacingAndGlyphs" fill="#111" stroke="#111" stroke-width="0.25" >500</text>
<text x="436.90" y="29.60" font-size="15.12" textLength="26.21" lengthAdjust="spacingAndGlyphs" fill="#111" stroke="#111" stroke-width="0.25" >600</text>
<text x="512.97" y="29.60" font-size="15.12" textLength="26.96" lengthAdjust="spacingAndGlyphs" fill="#111" stroke="#111" stroke-width="0.25" >700</text>
<text x="544.47" y="27.60" font-size="31.98" textLength="23.15" lengthAdjust="spacingAndGlyphs" fill="#111" stroke="#111" stroke-width="0.25" >C</text>
<text x="524.21" y="62.80" font-size="15.26" textLength="21.70" lengthAdjust="spacingAndGlyphs" fill="#111" stroke="#111" stroke-width="0.25" >1.0</text>
<text x="524.81" y="98.00" font-size="15.26" textLength="21.16" lengthAdjust="spacingAndGlyphs" fill="#111" stroke="#111" stroke-width="0.25" >0.8</text>
<text x="524.81" y="133.30" font-size="15.26" textLength="21.16" lengthAdjust="spacingAndGlyphs" fill="#111" stroke="#111" stroke-width="0.25" >0.6</text>
<text x="524.81" y="169.00" font-size="15.26" textLength="20.93" lengthAdjust="spacingAndGlyphs" fill="#111" stroke="#111" stroke-width="0.25" >0.4</text>
<text x="524.80" y="204.50" font-size="15.26" textLength="21.27" lengthAdjust="spacingAndGlyphs" fill="#111" stroke="#111" stroke-width="0.25" >0.2</text>
<text transform="translate(563.60,229.00) rotate(-90)" x="-1.28" y="0" font-size="15.41" textLength="195.24" lengthAdjust="spacingAndGlyphs" fill="#111" stroke="#111" stroke-width="0.2">Fluorescence intensity (a.u.)</text>
<path d="M292.50,340.10 L306.00,342.10 L351.60,342.10 L368.90,340.80 L378.70,338.90 L391.10,337.60 L398.50,337.60 L405.80,338.90 L413.20,332.00 L420.60,317.90 L426.10,300.00 L431.30,283.50 L436.60,263.50 L443.00,249.70 L449.30,246.60 L457.80,244.50 L464.10,244.90 L473.90,248.00 L488.70,254.30 L501.40,259.60 L514.10,262.10 L520.30,262.30" stroke="#f02020" stroke-width="1.2" fill="none" stroke-linejoin="round"/>
<path d="M292.50,340.80 L304.80,340.10 L322.00,336.40 L329.40,332.70 L340.00,325.00 L350.50,315.00 L361.50,302.40 L373.20,278.30 L383.80,261.40 L389.00,255.50 L393.50,252.00 L398.60,250.60 L402.50,251.80 L406.00,254.00 L413.40,260.30 L421.80,273.00 L430.30,285.70 L442.30,309.00 L450.70,323.80 L459.20,333.30 L467.60,338.20 L486.60,340.30 L501.40,336.50 L514.10,331.20 L520.30,328.00" stroke="#20b020" stroke-width="1.2" fill="none" stroke-linejoin="round"/>
<path d="M292.50,320.40 L323.30,289.60 L330.70,279.20 L338.10,274.30 L352.90,271.10 L361.50,277.70 L368.90,287.60 L391.10,326.60 L398.50,334.00 L405.80,338.90 L414.50,342.60 L423.10,343.80 L520.30,343.80" stroke="#2848e0" stroke-width="1.2" fill="none" stroke-linejoin="round"/>
<text x="299.78" y="268.50" font-size="12.21" textLength="71.65" lengthAdjust="spacingAndGlyphs" fill="#2a48d8" stroke="#2a48d8" stroke-width="0.1" >Blue channel</text>
<text x="354.18" y="248.60" font-size="12.21" textLength="80.44" lengthAdjust="spacingAndGlyphs" fill="#20b020" stroke="#20b020" stroke-width="0.1" >Green channel</text>
<text x="443.39" y="276.10" font-size="12.21" textLength="69.03" lengthAdjust="spacingAndGlyphs" fill="#f01818" stroke="#f01818" stroke-width="0.1" >Red channel</text>
<text x="285.85" y="369.40" font-size="15.26" textLength="25.65" lengthAdjust="spacingAndGlyphs" fill="#111" stroke="#111" stroke-width="0.25" >400</text>
<text x="361.48" y="369.40" font-size="15.26" textLength="25.93" lengthAdjust="spacingAndGlyphs" fill="#111" stroke="#111" stroke-width="0.25" >500</text>
<text x="437.92" y="369.40" font-size="15.26" textLength="25.47" lengthAdjust="spacingAndGlyphs" fill="#111" stroke="#111" stroke-width="0.25" >600</text>
<text x="514.12" y="369.40" font-size="15.26" textLength="25.37" lengthAdjust="spacingAndGlyphs" fill="#111" stroke="#111" stroke-width="0.25" >700</text>
<text x="354.83" y="385.90" font-size="14.83" textLength="106.58" lengthAdjust="spacingAndGlyphs" fill="#111" stroke="#111" stroke-width="0.25" >Wavelength/nm</text>
<text x="523.11" y="249.30" font-size="15.26" textLength="26.10" lengthAdjust="spacingAndGlyphs" fill="#111" stroke="#111" stroke-width="0.25" >100</text>
<text x="523.71" y="298.80" font-size="15.26" textLength="16.36" lengthAdjust="spacingAndGlyphs" fill="#111" stroke="#111" stroke-width="0.25" >50</text>
<text x="523.41" y="348.30" font-size="15.26" textLength="8.38" lengthAdjust="spacingAndGlyphs" fill="#111" stroke="#111" stroke-width="0.25" >0</text>
<text transform="translate(555.60,360.50) rotate(-90)" x="-0.34" y="0" font-size="14.83" textLength="109.09" lengthAdjust="spacingAndGlyphs" fill="#111" stroke="#111" stroke-width="0.2">Transmission/%</text>
<text x="542.68" y="384.30" font-size="31.98" textLength="23.04" lengthAdjust="spacingAndGlyphs" fill="#111" stroke="#111" stroke-width="0.25" >D</text>
<rect x="292.5" y="35.8" width="227.80" height="198.80" fill="none" stroke="#333" stroke-width="1.3"/>
<rect x="292.5" y="234.6" width="227.80" height="119.10" fill="none" stroke="#333" stroke-width="1.3"/>
<path d="M520.3,95.8V353.7" stroke="#262640" stroke-width="1.3"/>
</svg></body></html>
